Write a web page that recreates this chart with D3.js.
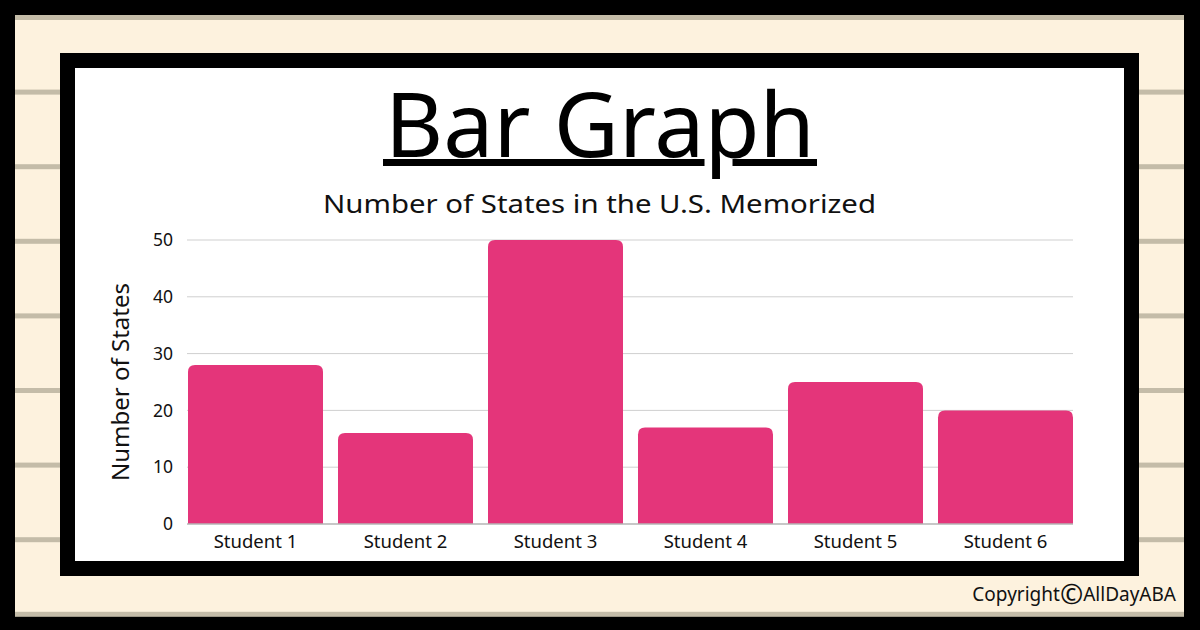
<!DOCTYPE html>
<html>
<head>
<meta charset="utf-8">
<script src="https://cdn.jsdelivr.net/npm/d3@7"></script>
<style>
  html, body { margin: 0; padding: 0; background: #000; }
  svg { display: block; }
</style>
</head>
<body>
<svg id="chart" width="1200" height="630"></svg>
<script>
const students = ["Student 1", "Student 2", "Student 3", "Student 4", "Student 5", "Student 6"];
const statesMemorized = [28, 16, 50, 17, 25, 20];
const yTicks = [0, 10, 20, 30, 40, 50];

const svg = d3.select("#chart");
const W = 1200, H = 630;
const font = "'Noto Sans', 'Open Sans', sans-serif";

// background: black edge, cream paper with ruled lines
svg.append("rect").attr("width", W).attr("height", H).attr("fill", "#000");
svg.append("rect")
  .attr("x", 15).attr("y", 15)
  .attr("width", 1169).attr("height", 598)
  .attr("fill", "#fdf2de");

const stripeYs = d3.range(0, 9).map(i => 17.5 + i * 74.6);
svg.append("g").selectAll("rect")
  .data(stripeYs)
  .join("rect")
  .attr("x", 15)
  .attr("y", d => d - 2.5)
  .attr("width", 1169)
  .attr("height", 5)
  .attr("fill", "#c4bca8");

// black frame + white card
svg.append("rect")
  .attr("x", 60).attr("y", 53)
  .attr("width", 1079).attr("height", 523)
  .attr("fill", "#000");
svg.append("rect")
  .attr("x", 75).attr("y", 68)
  .attr("width", 1049).attr("height", 493)
  .attr("fill", "#fff");

// big title, stretched to the reference width
const title = svg.append("text")
  .attr("x", 385).attr("y", 157)
  .attr("font-family", font)
  .attr("font-size", 90)
  .attr("fill", "#000")
  .attr("textLength", 430)
  .attr("lengthAdjust", "spacingAndGlyphs")
  .text("Bar Graph");

// underline, broken around the "p" descender
const pBox = title.node().getExtentOfChar(7);
const gapL = pBox.x, gapR = pBox.x + 28;
const ul = svg.append("g").attr("fill", "#000");
ul.append("rect").attr("x", 383).attr("y", 159).attr("width", gapL - 383).attr("height", 7);
ul.append("rect").attr("x", gapR).attr("y", 159).attr("width", 817 - gapR).attr("height", 7);

svg.append("text")
  .attr("x", 323).attr("y", 213)
  .attr("font-family", font)
  .attr("font-size", 25)
  .attr("fill", "#111")
  .attr("textLength", 553)
  .attr("lengthAdjust", "spacingAndGlyphs")
  .text("Number of States in the U.S. Memorized");

// chart
const x = d3.scaleBand()
  .domain(students)
  .range([180.5, 1080.5])
  .paddingInner(0.1)
  .paddingOuter(0.05);

const y = d3.scaleLinear()
  .domain([0, 50])
  .range([524, 240]);

svg.append("g").selectAll("line")
  .data(yTicks.filter(d => d > 0))
  .join("line")
  .attr("x1", 187).attr("x2", 1073)
  .attr("y1", d => y(d)).attr("y2", d => y(d))
  .attr("stroke", "#cfcfcf")
  .attr("stroke-width", 1);

const r = 7;
svg.append("g").selectAll("path")
  .data(students)
  .join("path")
  .attr("fill", "#e4357a")
  .attr("d", (d, i) => {
    const x0 = x(d), x1 = x(d) + x.bandwidth();
    const y0 = y(statesMemorized[i]), yb = y(0);
    return `M${x0},${yb} L${x0},${y0 + r} Q${x0},${y0} ${x0 + r},${y0}` +
      ` L${x1 - r},${y0} Q${x1},${y0} ${x1},${y0 + r} L${x1},${yb} Z`;
  });

// baseline
svg.append("line")
  .attr("x1", 187).attr("x2", 1073)
  .attr("y1", y(0)).attr("y2", y(0))
  .attr("stroke", "#b5b5b5")
  .attr("stroke-width", 1.5);

// y axis labels
const yAxis = svg.append("g")
  .attr("transform", "translate(173,0)")
  .call(d3.axisLeft(y).tickValues(yTicks).tickSize(0).tickPadding(0));
yAxis.select(".domain").remove();
yAxis.selectAll("text")
  .attr("font-family", font)
  .attr("font-size", 17.5)
  .attr("fill", "#111");

// x axis labels
const xAxis = svg.append("g")
  .attr("transform", `translate(0,${y(0)})`)
  .call(d3.axisBottom(x).tickSize(0).tickPadding(11));
xAxis.select(".domain").remove();
xAxis.selectAll("text")
  .attr("font-family", font)
  .attr("font-size", 18.5)
  .attr("fill", "#111");

svg.append("text")
  .attr("transform", "translate(129,382) rotate(-90)")
  .attr("text-anchor", "middle")
  .attr("font-family", font)
  .attr("font-size", 24)
  .attr("fill", "#111")
  .text("Number of States");

// copyright
const copy = svg.append("text")
  .attr("x", 1176).attr("y", 601)
  .attr("text-anchor", "end")
  .attr("font-family", font)
  .attr("font-size", 19)
  .attr("fill", "#111");
copy.append("tspan").text("Copyright");
copy.append("tspan").attr("font-size", 28).attr("dy", 3).text("\u00A9");
copy.append("tspan").attr("dy", -3).text("AllDayABA");
</script>
</body>
</html>
